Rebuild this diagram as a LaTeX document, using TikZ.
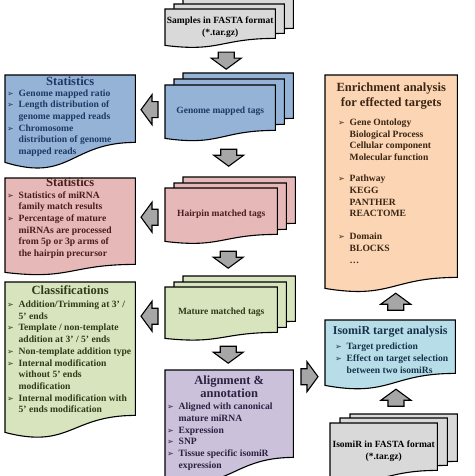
\documentclass[tikz,border=0pt]{standalone}
\usepackage{fontspec}
\setmainfont{Liberation Serif}
\newfontfamily\symfont{DejaVu Sans}
\usetikzlibrary{calc,backgrounds}

\definecolor{bluebox}{HTML}{95B3D7}
\definecolor{pinkbox}{HTML}{E6B9B8}
\definecolor{greenbox}{HTML}{D7E4BD}
\definecolor{purplebox}{HTML}{CCC1DA}
\definecolor{orangebox}{HTML}{FCD5B5}
\definecolor{cyanbox}{HTML}{B7DEE8}
\definecolor{graybox}{HTML}{D9D9D9}
\definecolor{arrowgray}{HTML}{A6A6A6}
\definecolor{navytext}{HTML}{1F3864}
\definecolor{maroontext}{HTML}{4A1E1E}
\definecolor{olivetext}{HTML}{2F3A17}
\definecolor{purpletext}{HTML}{2B2142}
\definecolor{browntext}{HTML}{3A2612}
\definecolor{cyantext}{HTML}{17324A}

\newcommand{\bul}{{\symfont\fontsize{8}{8}\selectfont ➢}}
\newcommand{\ttl}[2][12.5]{{\centering\fontsize{#1}{13}\selectfont #2\par}}
\newcommand{\itm}[1]{\par{\let\\\newline\hangindent=11.5pt\hangafter=1\noindent\hbox to 11.5pt{\bul\hss}#1\par}}
\newcommand{\lift}[1]{\vspace*{-#1pt}}
\newcommand{\boxtext}[2]{\begin{minipage}{#1pt}#2\end{minipage}}
% document outline round a node: node, rise of right end, shift x, shift y
\newcommand{\docshape}[5][]{%
  \draw[#1] ([shift={(#4pt,#5pt)}]#2.north west) -- ([shift={(#4pt,#5pt)}]#2.north east)
    -- ([shift={(#4pt,#5pt+#3pt)}]#2.south east)
    .. controls ([shift={(#4pt,#5pt+#3pt)}]#2.south) and ([shift={(#4pt,#5pt-#3pt)}]#2.south)
    .. ([shift={(#4pt,#5pt)}]#2.south west) -- cycle;}

\begin{document}
\begin{tikzpicture}[x=1pt,y=-1pt,
  outline/.style={draw=black,line width=1.1pt},
  tagdoc/.style={anchor=north west,inner sep=0pt,align=center,
    font=\bfseries\fontsize{9.5}{12}\selectfont},
  infobox/.style={anchor=north west,inner xsep=2pt,inner ysep=0pt,
    font=\bfseries\fontsize{9.6}{11.7}\selectfont},
  blkarrow/.pic={\draw[outline,fill=arrowgray] (-8,-8) -- (-8,-2) -- (-15,-2) -- (0,9)
    -- (15,-2) -- (8,-2) -- (8,-8) -- cycle;}]
\useasboundingbox (0,0) rectangle (474,476);

%%% tag files in the middle
\node[tagdoc,minimum width=110pt,minimum height=36pt] (samples) at (165,9)
  {Samples in FASTA format\\(*.tar.gz)};
\node[tagdoc,minimum width=110pt,minimum height=53pt,text=navytext] (genome) at (165,85)
  {Genome mapped tags};
\node[tagdoc,minimum width=112pt,minimum height=53pt,text=maroontext] (hairpin) at (165,188)
  {Hairpin matched tags};
\node[tagdoc,minimum width=112pt,minimum height=51pt,text=olivetext] (mature) at (165,287)
  {Mature matched tags};
\node[tagdoc,minimum width=107pt,minimum height=55pt] (isofasta) at (330,423)
  {IsomiR in FASTA format\\(*.tar.gz)};

%%% text boxes
\node[infobox,minimum width=130pt,minimum height=87pt,text=navytext] (stats1) at (5,75) {\boxtext{126}{%
  \lift{4}\ttl{Statistics}\vspace{-1pt}
  \itm{Genome mapped ratio}
  \itm{Length distribution of\\genome mapped reads}
  \itm{Chromosome\\distribution of genome\\mapped reads}}};
\node[infobox,minimum width=130pt,minimum height=94pt,text=maroontext] (stats2) at (5,178) {\boxtext{126}{%
  \lift{14}\ttl{Statistics}
  \itm{Statistics of miRNA\\family match results}
  \itm{Percentage of mature\\miRNAs are processed\\from 5p or 3p arms of\\the hairpin precursor}}};
\node[infobox,minimum width=130pt,minimum height=150pt,text=olivetext] (classif) at (5,282) {\boxtext{126}{%
  \lift{16}\ttl{Classifications}\vspace{1.5pt}
  \itm{Addition/Trimming at 3' /\\5' ends}
  \itm{Template / non-template\\addition at 3' / 5' ends}
  \itm{\mbox{Non-template addition type}}
  \itm{Internal modification\\without 5' ends\\modification}
  \itm{Internal modification with\\5' ends modification}}};
\node[infobox,minimum width=128pt,minimum height=106pt,text=purpletext] (align) at (165,370) {\boxtext{124}{%
  \ttl{Alignment \&}\ttl{annotation}
  \itm{Aligned with canonical\\mature miRNA}
  \itm{Expression}
  \itm{SNP}
  \itm{Tissue specific isomiR\\expression}}};
\node[infobox,minimum width=132pt,minimum height=213pt,text=browntext] (enrich) at (325,75) {\boxtext{128}{%
  \lift{17}\ttl{Enrichment analysis}\vspace{2pt}\ttl{for effected targets}\vspace{7pt}
  {\leftskip=11pt
  \itm{Gene Ontology\\Biological Process\\Cellular component\\Molecular function}
  \vspace{9.5pt}
  \itm{Pathway\\KEGG\\PANTHER\\REACTOME}
  \vspace{11pt}
  \itm{Domain\\BLOCKS\\\ldots}\par}}};
\node[infobox,minimum width=130pt,minimum height=65pt,text=cyantext] (target) at (325,320) {\boxtext{126}{%
  \lift{6}\ttl[12]{IsomiR target analysis}\vspace{4pt}
  {\leftskip=8pt
  \itm{Target prediction}
  \itm{Effect on target selection\\between two isomiRs}\par}}};

%%% outlines
\begin{scope}[on background layer]
  \fill[white] (0,0) rectangle (474,476);
  \docshape[outline,fill=graybox]{samples}{7}{18}{10}
  \docshape[outline,fill=graybox]{samples}{7}{9}{5}
  \docshape[outline,fill=graybox]{samples}{7}{0}{0}
  \docshape[outline,fill=bluebox]{genome}{8}{18}{12}
  \docshape[outline,fill=bluebox]{genome}{8}{9}{6}
  \docshape[outline,fill=bluebox]{genome}{8}{0}{0}
  \docshape[outline,fill=pinkbox]{hairpin}{7}{18}{11}
  \docshape[outline,fill=pinkbox]{hairpin}{7}{9}{5}
  \docshape[outline,fill=pinkbox]{hairpin}{7}{0}{0}
  \docshape[outline,fill=greenbox]{mature}{6}{18}{11}
  \docshape[outline,fill=greenbox]{mature}{6}{9}{5}
  \docshape[outline,fill=greenbox]{mature}{6}{0}{0}
  \docshape[outline,fill=graybox]{isofasta}{8}{20}{9}
  \docshape[outline,fill=graybox]{isofasta}{8}{10}{5}
  \docshape[outline,fill=graybox]{isofasta}{8}{0}{0}
  \docshape[outline,fill=bluebox]{stats1}{20}{0}{0}
  \docshape[outline,fill=pinkbox]{stats2}{8}{0}{0}
  \docshape[outline,fill=greenbox]{classif}{17}{0}{0}
  \docshape[outline,fill=purplebox]{align}{19}{0}{0}
  \docshape[outline,fill=orangebox]{enrich}{11}{0}{0}
  \docshape[outline,fill=cyanbox]{target}{12}{0}{0}
\end{scope}

%%% block arrows
\pic at ($(samples.south)!.5!(genome.north)+(6,-5)$) {blkarrow};
\pic at ($(genome.south)!.5!(hairpin.north)+(8,-6)$) {blkarrow};
\pic at ($(hairpin.south)!.5!(mature.north)+(7,-5)$) {blkarrow};
\pic at ($(mature.south)!.5!(align.north)+(3,0)$) {blkarrow};
\pic[rotate=-90] at ($(genome.west)+(-15,-2)$) {blkarrow};
\pic[rotate=-90] at ($(hairpin.west)+(-15,2.5)$) {blkarrow};
\pic[rotate=-90] at ($(mature.west)+(-15,3.5)$) {blkarrow};
\pic[rotate=90] at ($(target.west)+(-16,24)$) {blkarrow};
\pic[rotate=180] at ($(enrich.south)!.5!(target.north)+(5,-2)$) {blkarrow};
\pic[rotate=180] at ($(target.south)!.5!(isofasta.north)+(9,-6)$) {blkarrow};
\end{tikzpicture}
\end{document}
